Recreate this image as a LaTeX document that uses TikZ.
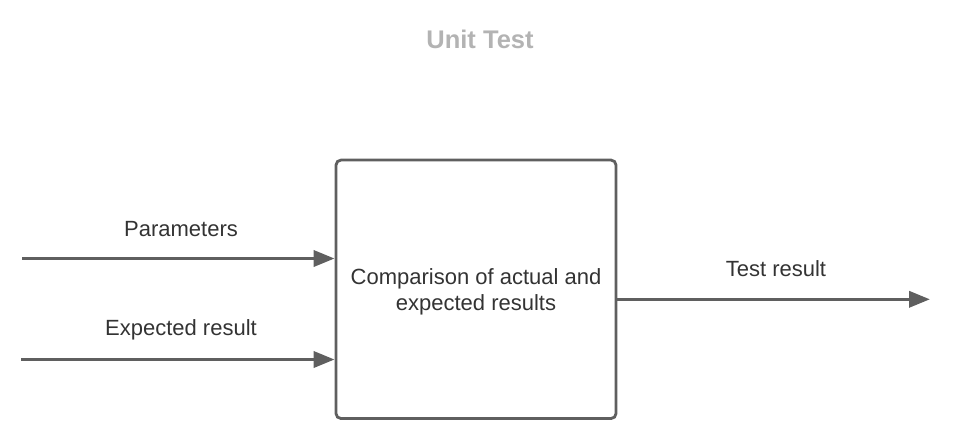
\documentclass[tikz,border=0pt]{standalone}
\usepackage{fontspec}
\setmainfont{Liberation Sans}
\usetikzlibrary{arrows.meta}
\definecolor{linegray}{HTML}{5F5F5F}
\definecolor{textgray}{HTML}{333333}
\definecolor{titlegray}{HTML}{B3B3B3}
\tikzset{
  arr/.style={draw=linegray, line width=3.6pt, -{Triangle[length=21pt,width=16pt]}},
  lbl/.style={text=textgray, font=\fontsize{22pt}{26pt}\selectfont, anchor=base, inner sep=0pt},
  procbox/.style={draw=linegray, line width=2.8pt, rounded corners=5pt, fill=white,
    minimum width=280pt, minimum height=258.5pt, inner sep=0pt},
  boxtext/.style={align=center, inner sep=0pt,
    text=textgray, font=\fontsize{22pt}{26pt}\selectfont},
  titlestyle/.style={text=titlegray, font=\bfseries\fontsize{25.5pt}{30pt}\selectfont, anchor=base, inner sep=0pt}
}
\begin{document}
\begin{tikzpicture}[x=1pt,y=-1pt]
\useasboundingbox (0,0) rectangle (971,440);
\node[titlestyle] (title) at (480,48.5) {Unit Test};
\node[procbox] (box) at (476,289.3) {};
\node[boxtext] (btext) at (476,291.5) {Comparison of actual and\\expected results};
\coordinate (pin) at (22,258.5);
\coordinate (ein) at (21,359.5);
\coordinate (tout) at (930,299.3);
\draw[arr] (pin) -- (pin -| box.west);
\draw[arr] (ein) -- (ein -| box.west);
\draw[arr] (tout -| box.east) -- (tout);
\node[lbl] (plbl) at (181,236) {Parameters};
\node[lbl] (elbl) at (181,335) {Expected result};
\node[lbl] (tlbl) at (776,276) {Test result};
\end{tikzpicture}
\end{document}
